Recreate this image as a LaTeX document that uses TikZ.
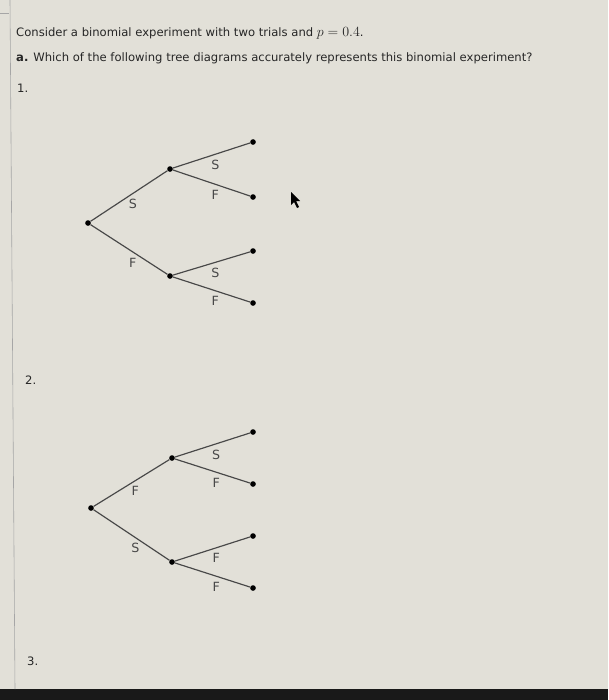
\documentclass[tikz,border=0pt]{standalone}
\usepackage{fontspec}
\setmainfont{DejaVu Sans}
\usepackage{tikz}
\definecolor{screen}{RGB}{226,224,216}
\definecolor{ink}{RGB}{72,72,72}
\tikzstyle{dot} = [circle, fill=black, inner sep=0pt, minimum size=4.8pt]
\tikzstyle{branch} = [draw=ink, line width=1pt]
\tikzstyle{lab} = [pos=0.55, anchor=north, inner sep=4.5pt, text=ink, font=\fontsize{10.8}{12}\selectfont]
\tikzstyle{txt} = [anchor=base west, inner sep=0pt, text=black!85, font=\fontsize{9.9}{12}\selectfont]

\begin{document}
\begin{tikzpicture}[x=0.03cm, y=-0.03cm]
    \fill [screen] (0,0) rectangle (608,700);
    \useasboundingbox (0,0) rectangle (608,700);
    \fill [black!90] (0,689) rectangle (608,700);
    \draw [black!35, line width=0.5pt] (10,0) -- (15,689);
    \draw [black!35, line width=0.5pt] (0,13) -- (9,13);
    % question text
    \node [txt] at (16,36) (q1) {Consider a binomial experiment with two trials and {\fontsize{11.8}{12}\selectfont$p=0.4$}.};
    \node [txt] at (16,61) (q2) {\textbf{a.} Which of the following tree diagrams accurately represents this binomial experiment?};
    \node [txt] at (17,92) (n1) {1.};
    \node [txt] at (25,384) (n2) {2.};
    \node [txt] at (27,665) (n3) {3.};
    % tree 1
    \node [dot] at (88,223) (r1) {};
    \node [dot] at (170,169) (u1) {};
    \node [dot] at (170,276) (d1) {};
    \node [dot] at (253,142) (u1s) {};
    \node [dot] at (253,197) (u1f) {};
    \node [dot] at (253,251) (d1s) {};
    \node [dot] at (253,303) (d1f) {};
    \draw [branch] (r1) -- node[lab] {S} (u1);
    \draw [branch] (r1) -- node[lab] {F} (d1);
    \draw [branch] (u1) -- node[lab] {S} (u1s);
    \draw [branch] (u1) -- node[lab] {F} (u1f);
    \draw [branch] (d1) -- node[lab] {S} (d1s);
    \draw [branch] (d1) -- node[lab] {F} (d1f);
    % tree 2
    \node [dot] at (91,508) (r2) {};
    \node [dot] at (172,458) (u2) {};
    \node [dot] at (172,562) (d2) {};
    \node [dot] at (253,432) (u2s) {};
    \node [dot] at (253,484) (u2f) {};
    \node [dot] at (253,536) (d2s) {};
    \node [dot] at (253,588) (d2f) {};
    \draw [branch] (r2) -- node[lab] {F} (u2);
    \draw [branch] (r2) -- node[lab] {S} (d2);
    \draw [branch] (u2) -- node[lab] {S} (u2s);
    \draw [branch] (u2) -- node[lab] {F} (u2f);
    \draw [branch] (d2) -- node[lab] {F} (d2s);
    \draw [branch] (d2) -- node[lab] {F} (d2f);
    % mouse pointer
    \fill [black] (291,192) -- (291,205) -- (294,202) -- (297,208) -- (299,207) -- (296,201) -- (300,201) -- cycle;
\end{tikzpicture}
\end{document}
